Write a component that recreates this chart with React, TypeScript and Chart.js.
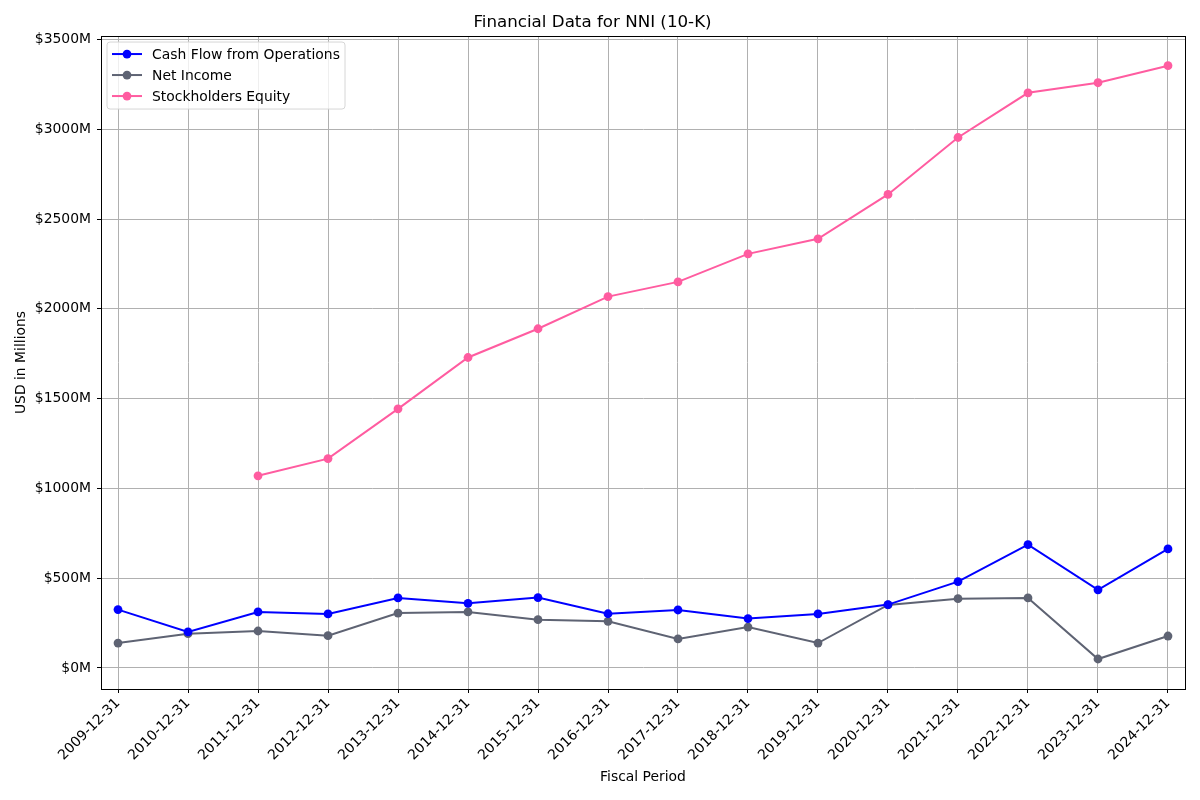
import React, { useEffect, useRef } from "react";
import { Chart, registerables } from "chart.js";

Chart.register(...registerables);

const categories = [
  "2009-12-31", "2010-12-31", "2011-12-31", "2012-12-31", "2013-12-31", "2014-12-31",
  "2015-12-31", "2016-12-31", "2017-12-31", "2018-12-31", "2019-12-31", "2020-12-31",
  "2021-12-31", "2022-12-31", "2023-12-31", "2024-12-31",
];
const cashFlowOps = [325, 201, 312, 301, 390, 360, 392, 302, 323, 275, 301, 353, 481, 687, 435, 663];
const netIncome = [139, 191, 206, 180, 306, 312, 269, 260, 162, 228, 139, 351, 386, 390, 50, 178];
const equity = [null, null, 1070, 1166, 1443, 1729, 1889, 2068, 2150, 2306, 2390, 2637, 2954, 3203, 3259, 3354];
const yTicks = [0, 500, 1000, 1500, 2000, 2500, 3000, 3500];

const FONT = "'DejaVu Sans', sans-serif";
const FS = 13.9;

const toPoints = (arr: (number | null)[]) =>
  arr.map((v, i) => ({ x: i, y: v })).filter((p) => p.y !== null);

const framePlugin = {
  id: "frameAndLegend",
  afterDraw(chart: any) {
    const ctx = chart.ctx;
    const a = chart.chartArea;
    ctx.save();
    ctx.strokeStyle = "#000";
    ctx.lineWidth = 1;
    ctx.strokeRect(Math.round(a.left) + 0.5, Math.round(a.top) + 0.5, Math.round(a.right - a.left), Math.round(a.bottom - a.top));

    // legend box
    const x0 = a.left + 6;
    const y0 = a.top + 6;
    const w = 238;
    const h = 67;
    ctx.fillStyle = "rgba(255,255,255,0.8)";
    ctx.strokeStyle = "#d6d6d6";
    ctx.lineWidth = 1;
    const r = 3;
    ctx.beginPath();
    ctx.moveTo(x0 + r, y0);
    ctx.lineTo(x0 + w - r, y0);
    ctx.quadraticCurveTo(x0 + w, y0, x0 + w, y0 + r);
    ctx.lineTo(x0 + w, y0 + h - r);
    ctx.quadraticCurveTo(x0 + w, y0 + h, x0 + w - r, y0 + h);
    ctx.lineTo(x0 + r, y0 + h);
    ctx.quadraticCurveTo(x0, y0 + h, x0, y0 + h - r);
    ctx.lineTo(x0, y0 + r);
    ctx.quadraticCurveTo(x0, y0, x0 + r, y0);
    ctx.closePath();
    ctx.fill();
    ctx.stroke();

    ctx.font = `${FS}px ${FONT}`;
    ctx.textBaseline = "middle";
    ctx.textAlign = "left";
    chart.data.datasets.forEach((ds: any, i: number) => {
      const cy = y0 + 12 + i * 21;
      ctx.strokeStyle = ds.borderColor;
      ctx.lineWidth = 2;
      ctx.beginPath();
      ctx.moveTo(x0 + 5, cy);
      ctx.lineTo(x0 + 35, cy);
      ctx.stroke();
      ctx.fillStyle = ds.borderColor;
      ctx.beginPath();
      ctx.arc(x0 + 20, cy, 4.4, 0, Math.PI * 2);
      ctx.fill();
      ctx.fillStyle = "#000";
      ctx.fillText(ds.label, x0 + 45, cy + 1);
    });
    ctx.restore();
  },
};

export default function App() {
  const ref = useRef<HTMLCanvasElement>(null);

  useEffect(() => {
    document.body.style.margin = "0";
    if (!ref.current) return;
    const mk = (label: string, data: (number | null)[], color: string) => ({
      label,
      data: toPoints(data),
      borderColor: color,
      backgroundColor: color,
      borderWidth: 2,
      pointRadius: 4.4,
      pointHoverRadius: 4.4,
      pointBorderWidth: 0,
      tension: 0,
    });
    const chart = new Chart(ref.current, {
      type: "line",
      data: {
        datasets: [
          mk("Cash Flow from Operations", cashFlowOps, "#0000ff"),
          mk("Net Income", netIncome, "#5e6373"),
          mk("Stockholders Equity", equity, "#ff5ca0"),
        ],
      },
      plugins: [framePlugin],
      options: {
        animation: false,
        responsive: false,
        devicePixelRatio: 1,
        layout: { padding: { left: 0, right: 15, top: 0, bottom: 0 } },
        plugins: {
          legend: { display: false },
          tooltip: { enabled: false },
          title: {
            display: true,
            text: "Financial Data for NNI (10-K)",
            color: "#000",
            font: { family: FONT, size: 16.7, weight: "normal", lineHeight: 1.2 },
            padding: { top: 13, bottom: 3 },
          },
        },
        scales: {
          x: {
            type: "linear",
            min: -0.243,
            max: categories.length - 1 + 0.243,
            afterBuildTicks: (scale: any) => {
              scale.ticks = categories.map((_, i) => ({ value: i }));
            },
            afterFit: (scale: any) => {
              scale.height = 111;
            },
            ticks: {
              autoSkip: false,
              minRotation: 45,
              maxRotation: 45,
              color: "#000",
              padding: 2,
              font: { family: FONT, size: FS },
              callback: (v: any) => categories[Math.round(Number(v))] ?? "",
            },
            grid: { color: "#b0b0b0", lineWidth: 1, tickColor: "#000", tickLength: 4, drawTicks: true },
            border: { color: "#000", width: 1 },
            title: {
              display: true,
              text: "Fiscal Period",
              color: "#000",
              font: { family: FONT, size: FS },
              padding: { top: 2, bottom: 14 },
            },
          },
          y: {
            type: "linear",
            min: -117,
            max: 3519,
            afterBuildTicks: (scale: any) => {
              scale.ticks = yTicks.map((v) => ({ value: v }));
            },
            afterFit: (scale: any) => {
              scale.width = 101;
            },
            ticks: {
              color: "#000",
              padding: 6,
              font: { family: FONT, size: FS },
              callback: (v: any) => `$${v}M`,
            },
            grid: { color: "#b0b0b0", lineWidth: 1, tickColor: "#000", tickLength: 4, drawTicks: true },
            border: { color: "#000", width: 1 },
            title: {
              display: true,
              text: "USD in Millions",
              color: "#000",
              font: { family: FONT, size: FS },
              padding: { top: 13, bottom: 0 },
            },
          },
        },
      } as any,
    });
    return () => chart.destroy();
  }, []);

  return (
    <div style={{ position: "fixed", left: 0, top: 0, width: 1200, height: 800, background: "#fff" }}>
      <canvas ref={ref} width={1200} height={800} style={{ width: 1200, height: 800 }} />
    </div>
  );
}
